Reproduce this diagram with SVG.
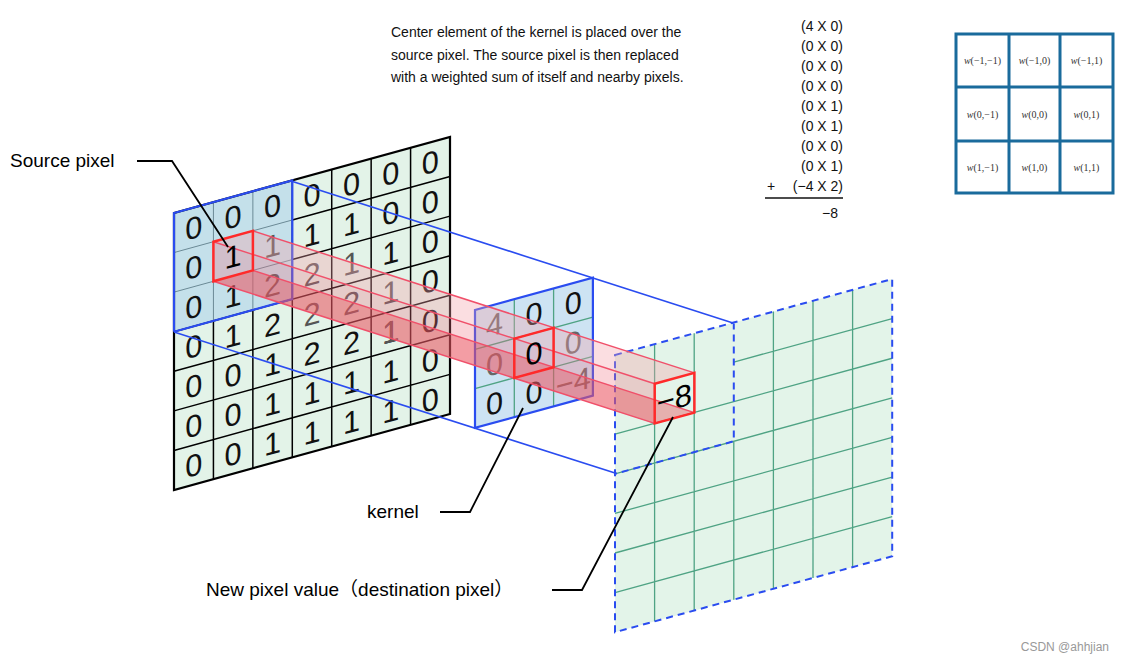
<svg xmlns="http://www.w3.org/2000/svg" width="1124" height="663" viewBox="0 0 1124 663">
<style>
.ns{vector-effect:non-scaling-stroke}
.num{font-family:"Liberation Sans",Arial,sans-serif;font-size:0.78px;text-anchor:middle}
.lbl{font-family:"Liberation Sans","Noto Sans CJK SC",sans-serif;font-size:19px;fill:#000}
.txt{font-family:"Liberation Sans",Arial,sans-serif;font-size:14px;fill:#111}
.calc{font-family:"Liberation Sans",Arial,sans-serif;font-size:14px;fill:#111;text-anchor:end}
.w{font-family:"Liberation Serif","Times New Roman",serif;font-size:10px;fill:#333;text-anchor:middle}
.lead{fill:none;stroke:#000;stroke-width:1.8}
.proj{stroke:#2a4cf0;stroke-width:1.6;fill:none}
</style>
<rect width="1124" height="663" fill="#fff"/>

<g id="input-grid" transform="matrix(39.43,-10.86,0,39.57,174,213)">
<rect x="0" y="0" width="7" height="7" fill="#e3f3e8"/>
<rect x="0" y="0" width="3" height="3" fill="#c4e0ea"/>
<g stroke="#000" stroke-width="1.5" class="ns">
<path class="ns" d="M3 0V7M4 0V7M5 0V7M6 0V7M1 3V7M2 3V7M3 1H7M3 2H7M0 3H7M0 4H7M0 5H7M0 6H7" stroke="#000" stroke-width="1.5"/>
</g>
<path class="ns" d="M1 0V3M2 0V3M0 1H3M0 2H3" stroke="#6b8a96" stroke-width="1"/>
<rect class="ns" x="0" y="0" width="7" height="7" fill="none" stroke="#000" stroke-width="2.2"/>
<path class="ns" d="M0 3V0H3V3H0" fill="none" stroke="#2a4cf0" stroke-width="2.2"/>
<g class="num" fill="#111">
<text x="0.5" y="0.78">0</text><text x="1.5" y="0.78">0</text><text x="2.5" y="0.78">0</text><text x="3.5" y="0.78">0</text><text x="4.5" y="0.78">0</text><text x="5.5" y="0.78">0</text><text x="6.5" y="0.78">0</text>
<text x="0.5" y="1.78">0</text><text x="3.5" y="1.78">1</text><text x="4.5" y="1.78">1</text><text x="5.5" y="1.78">0</text><text x="6.5" y="1.78">0</text>
<text x="0.5" y="2.78">0</text><text x="1.5" y="2.78">1</text><text x="5.5" y="2.78">1</text><text x="6.5" y="2.78">0</text>
<text x="0.5" y="3.78">0</text><text x="1.5" y="3.78">1</text><text x="2.5" y="3.78">2</text><text x="6.5" y="3.78">0</text>
<text x="0.5" y="4.78">0</text><text x="1.5" y="4.78">0</text><text x="2.5" y="4.78">1</text><text x="3.5" y="4.78">2</text><text x="4.5" y="4.78">2</text><text x="5.5" y="4.78">1</text><text x="6.5" y="4.78">0</text>
<text x="0.5" y="5.78">0</text><text x="1.5" y="5.78">0</text><text x="2.5" y="5.78">1</text><text x="3.5" y="5.78">1</text><text x="4.5" y="5.78">1</text><text x="5.5" y="5.78">1</text><text x="6.5" y="5.78">0</text>
<text x="0.5" y="6.78">0</text><text x="1.5" y="6.78">0</text><text x="2.5" y="6.78">1</text><text x="3.5" y="6.78">1</text><text x="4.5" y="6.78">1</text><text x="5.5" y="6.78">1</text><text x="6.5" y="6.78">0</text>
</g>
<g class="num" fill="#555">
<text x="2.5" y="1.78">1</text><text x="2.5" y="2.78">2</text><text x="3.5" y="2.78">2</text><text x="4.5" y="2.78">1</text>
<text x="3.5" y="3.78">2</text><text x="4.5" y="3.78">2</text><text x="5.5" y="3.78">1</text><text x="5.5" y="4.78">1</text>
</g>
</g>

<g id="kernel" transform="matrix(39.3,-10.75,0,39.3,475,310)">
<rect x="0" y="0" width="3" height="3" fill="#cde3f3"/>
<path class="ns" d="M1 0V3M2 0V3M0 1H3M0 2H3" stroke="#4fa384" stroke-width="1.3"/>
<rect class="ns" x="0" y="0" width="3" height="3" fill="none" stroke="#2a4cf0" stroke-width="2.2"/>
<g class="num" fill="#111">
<text x="1.5" y="0.78">0</text><text x="2.5" y="0.78">0</text>
<text x="0.5" y="2.78">0</text><text x="1.5" y="2.78">0</text>
</g>
<g class="num" fill="#666">
<text x="0.5" y="0.78">4</text><text x="0.5" y="1.78">0</text><text x="2.5" y="1.78">0</text><text x="2.5" y="2.78">−4</text>
</g>
</g>

<g id="output-grid" transform="matrix(39.6,-10.85,0,39.6,615,355)">
<rect x="0" y="0" width="7" height="7" fill="#e3f4e9"/>
<path class="ns" d="M1 0V7M2 0V7M3 3V7M4 0V7M5 0V7M6 0V7M3 1H7M3 2H7M0 3H7M0 4H7M0 5H7M0 6H7M0 2H3" stroke="#4fa384" stroke-width="1.3" fill="none"/>
<path class="ns" d="M0 0H7V7H0ZM3 0V3H0" fill="none" stroke="#2a4cf0" stroke-width="2" stroke-dasharray="7 5"/>
</g>

<g id="connectors">
<line class="proj" x1="291" y1="181" x2="733" y2="323"/>
<line class="proj" x1="174" y1="332" x2="615" y2="473"/>
<g id="prism">
<polygon points="213.4,241.7 252.9,230.9 694.4,372.9 654.7,383.8" fill="#f4a0a8" fill-opacity="0.35"/>
<polygon points="213.4,241.7 213.4,281.3 654.7,423.4 654.7,383.8" fill="#f07080" fill-opacity="0.3"/>
<polygon points="213.4,281.3 252.9,270.4 694.4,412.6 654.7,423.4" fill="#e84a55" fill-opacity="0.4"/>
<g stroke="#f0506a" stroke-width="1.5">
<line x1="213.4" y1="241.7" x2="654.7" y2="383.8"/>
<line x1="252.9" y1="230.9" x2="694.4" y2="372.9"/>
<line x1="213.4" y1="281.3" x2="654.7" y2="423.4"/>
<line x1="252.9" y1="270.4" x2="694.4" y2="412.6"/>
</g>
</g>
<polygon points="213.4,241.7 252.9,230.9 252.9,270.4 213.4,281.3" fill="none" stroke="#ff2a2a" stroke-width="2.5"/>
<polygon points="514.3,338.6 553.6,327.9 553.6,367.2 514.3,377.9" fill="none" stroke="#ff2a2a" stroke-width="2.5"/>
<polygon points="654.7,383.8 694.4,372.9 694.4,412.6 654.7,423.4" fill="none" stroke="#ff2a2a" stroke-width="2.5"/>
<path class="lead" d="M137 161H172L228 247"/>
<path class="lead" d="M440 512H470L523 408"/>
<path class="lead" d="M552 590H582L673 417"/>
</g>

<g class="num" fill="#000" transform="matrix(39.43,-10.86,0,39.57,174,213)"><text x="1.5" y="1.78">1</text></g>
<g class="num" fill="#000" transform="matrix(39.3,-10.75,0,39.3,475,310)"><text x="1.5" y="1.78">0</text></g>
<g class="num" fill="#000" transform="matrix(39.6,-10.85,0,39.6,615,355)"><text x="1.5" y="1.78">−8</text></g>

<g id="labels">
<text class="lbl" x="10" y="167">Source pixel</text>
<text class="lbl" x="367" y="518">kernel</text>
<text class="lbl" x="206" y="596">New pixel value（destination pixel）</text>
</g>

<g id="description">
<text class="txt" x="391" y="37">Center element of the kernel is placed over the</text>
<text class="txt" x="391" y="60">source pixel. The source pixel is then replaced</text>
<text class="txt" x="391" y="82">with a weighted sum of itself and nearby pixels.</text>
</g>

<g id="calculation">
<text class="calc" x="843" y="31">(4 X 0)</text>
<text class="calc" x="843" y="51">(0 X 0)</text>
<text class="calc" x="843" y="71">(0 X 0)</text>
<text class="calc" x="843" y="91">(0 X 0)</text>
<text class="calc" x="843" y="111">(0 X 1)</text>
<text class="calc" x="843" y="131">(0 X 1)</text>
<text class="calc" x="843" y="151">(0 X 0)</text>
<text class="calc" x="843" y="171">(0 X 1)</text>
<text class="calc" x="843" y="191">(−4 X 2)</text>
<text class="txt" x="767" y="191">+</text>
<line x1="765" y1="198" x2="843" y2="198" stroke="#111" stroke-width="1.5"/>
<text class="calc" x="838" y="218">−8</text>
</g>

<g id="weights">
<path d="M956 34H1113V193H956ZM1009 34V193M1060 34V193M956 87H1113M956 141H1113" fill="none" stroke="#1a6b9c" stroke-width="3"/>
<g class="w">
<text x="982.5" y="64"><tspan font-style="italic">w</tspan>(−1,−1)</text>
<text x="1034.5" y="64"><tspan font-style="italic">w</tspan>(−1,0)</text>
<text x="1086.5" y="64"><tspan font-style="italic">w</tspan>(−1,1)</text>
<text x="982.5" y="118"><tspan font-style="italic">w</tspan>(0,−1)</text>
<text x="1034.5" y="118"><tspan font-style="italic">w</tspan>(0,0)</text>
<text x="1086.5" y="118"><tspan font-style="italic">w</tspan>(0,1)</text>
<text x="982.5" y="171"><tspan font-style="italic">w</tspan>(1,−1)</text>
<text x="1034.5" y="171"><tspan font-style="italic">w</tspan>(1,0)</text>
<text x="1086.5" y="171"><tspan font-style="italic">w</tspan>(1,1)</text>
</g>
</g>

<text x="1109" y="651" text-anchor="end" font-family="Liberation Sans,Arial,sans-serif" font-size="12" fill="#999">CSDN @ahhjian</text>
</svg>
